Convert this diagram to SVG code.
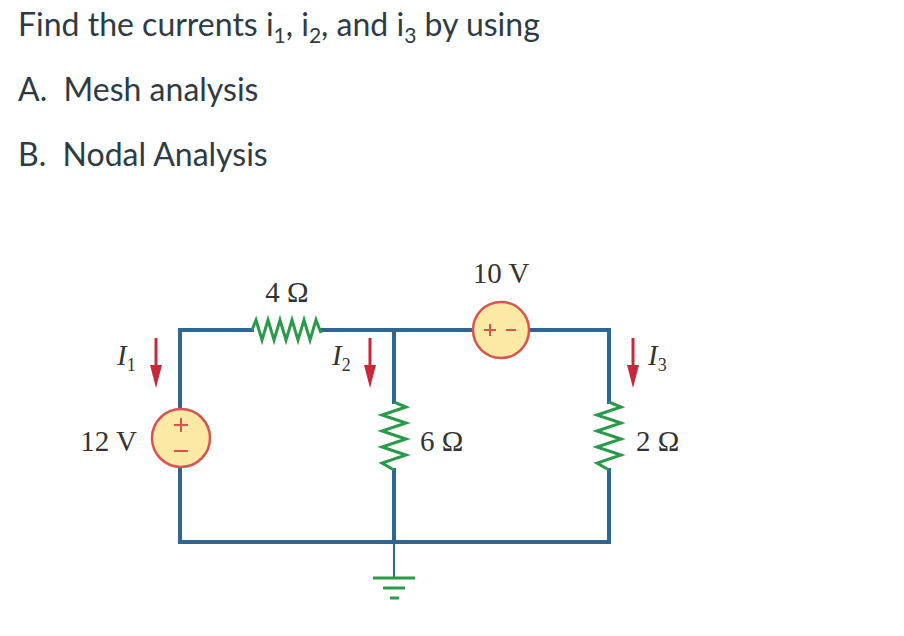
<svg xmlns="http://www.w3.org/2000/svg" width="904" height="636" viewBox="0 0 904 636">
<style>
.q{font-family:Lato,"Liberation Sans",sans-serif;font-size:32px;fill:#2d3b45}
.l{font-family:"Liberation Serif",serif;font-size:29px;fill:#333}
.w{stroke:#2f6593;stroke-width:4;fill:none;stroke-linecap:square}
.r{stroke:#2a9a4a;stroke-width:3;fill:none;stroke-linejoin:miter}
.s{fill:#fde9a6;stroke:#d9534f;stroke-width:2.5}
.p{stroke:#d9534f;stroke-width:2;fill:none}
.a{stroke:#c8283a;stroke-width:3}
</style>
<rect width="904" height="636" fill="#fff"/>
<g id="question">
<text class="q" x="18" y="36">Find the currents i<tspan font-size="21" dy="7">1</tspan><tspan dy="-7">, i</tspan><tspan font-size="21" dy="7">2</tspan><tspan dy="-7">, and i</tspan><tspan font-size="21" dy="7">3</tspan><tspan dy="-7"> by using</tspan></text>
<text class="q" x="18" y="101" xml:space="preserve">A.  Mesh analysis</text>
<text class="q" x="18" y="166" xml:space="preserve">B.  Nodal Analysis</text>
</g>
<g id="wires">
<path class="w" d="M180,410 V330 H252 M321,330 H474 M529,330 H609 V402 M609,470 V542 H180 V467 M394,330 V402 M394,470 V542"/>
<path d="M394,542 V578" stroke="#2f6593" stroke-width="2"/>
</g>
<g id="ground" stroke="#2a9a4a" stroke-width="3">
<line x1="373" y1="578" x2="415" y2="578"/><line x1="383" y1="588" x2="405" y2="588"/><line x1="390" y1="598" x2="399" y2="598"/>
</g>
<g id="r4"><path class="r" d="M252,330 L256,320 L262,340 L268,320 L274,340 L280,320 L286,340 L292,320 L298,340 L304,320 L310,340 L316,320 L321,333"/><text class="l" x="287" y="302" text-anchor="middle">4 Ω</text></g>
<g id="r6"><path class="r" d="M394,402 L406,407 L382,415 L406,423 L382,431 L406,439 L382,447 L406,455 L382,463 L394,470"/><text class="l" x="420" y="451">6 Ω</text></g>
<g id="r2"><path class="r" d="M609,402 L621,407 L597,415 L621,423 L597,431 L621,439 L597,447 L621,455 L597,463 L609,470"/><text class="l" x="636" y="451">2 Ω</text></g>
<g id="v12"><ellipse class="s" cx="181" cy="438" rx="29" ry="29"/><path class="p" d="M181,418 V432 M174,425 H188 M174,451 H188"/><text class="l" x="137" y="451" text-anchor="end">12 V</text></g>
<g id="v10"><ellipse class="s" cx="501" cy="330" rx="28" ry="28"/><path class="p" d="M484,330 H496 M490,324 V336 M506,330 H516"/><text class="l" x="501" y="283" text-anchor="middle">10 V</text></g>
<g id="currents">
<line class="a" x1="156" y1="338" x2="156" y2="368"/><path d="M150,365 L162,365 L156,388z" fill="#c8283a"/>
<line class="a" x1="370" y1="338" x2="370" y2="368"/><path d="M364,365 L376,365 L370,388z" fill="#c8283a"/>
<line class="a" x1="633" y1="338" x2="633" y2="368"/><path d="M627,365 L639,365 L633,388z" fill="#c8283a"/>
<text class="l" x="117" y="365" font-style="italic">I<tspan font-size="18" font-style="normal" dy="6">1</tspan></text>
<text class="l" x="332" y="365" font-style="italic">I<tspan font-size="18" font-style="normal" dy="6">2</tspan></text>
<text class="l" x="648" y="365" font-style="italic">I<tspan font-size="18" font-style="normal" dy="6">3</tspan></text>
</g>
</svg>
